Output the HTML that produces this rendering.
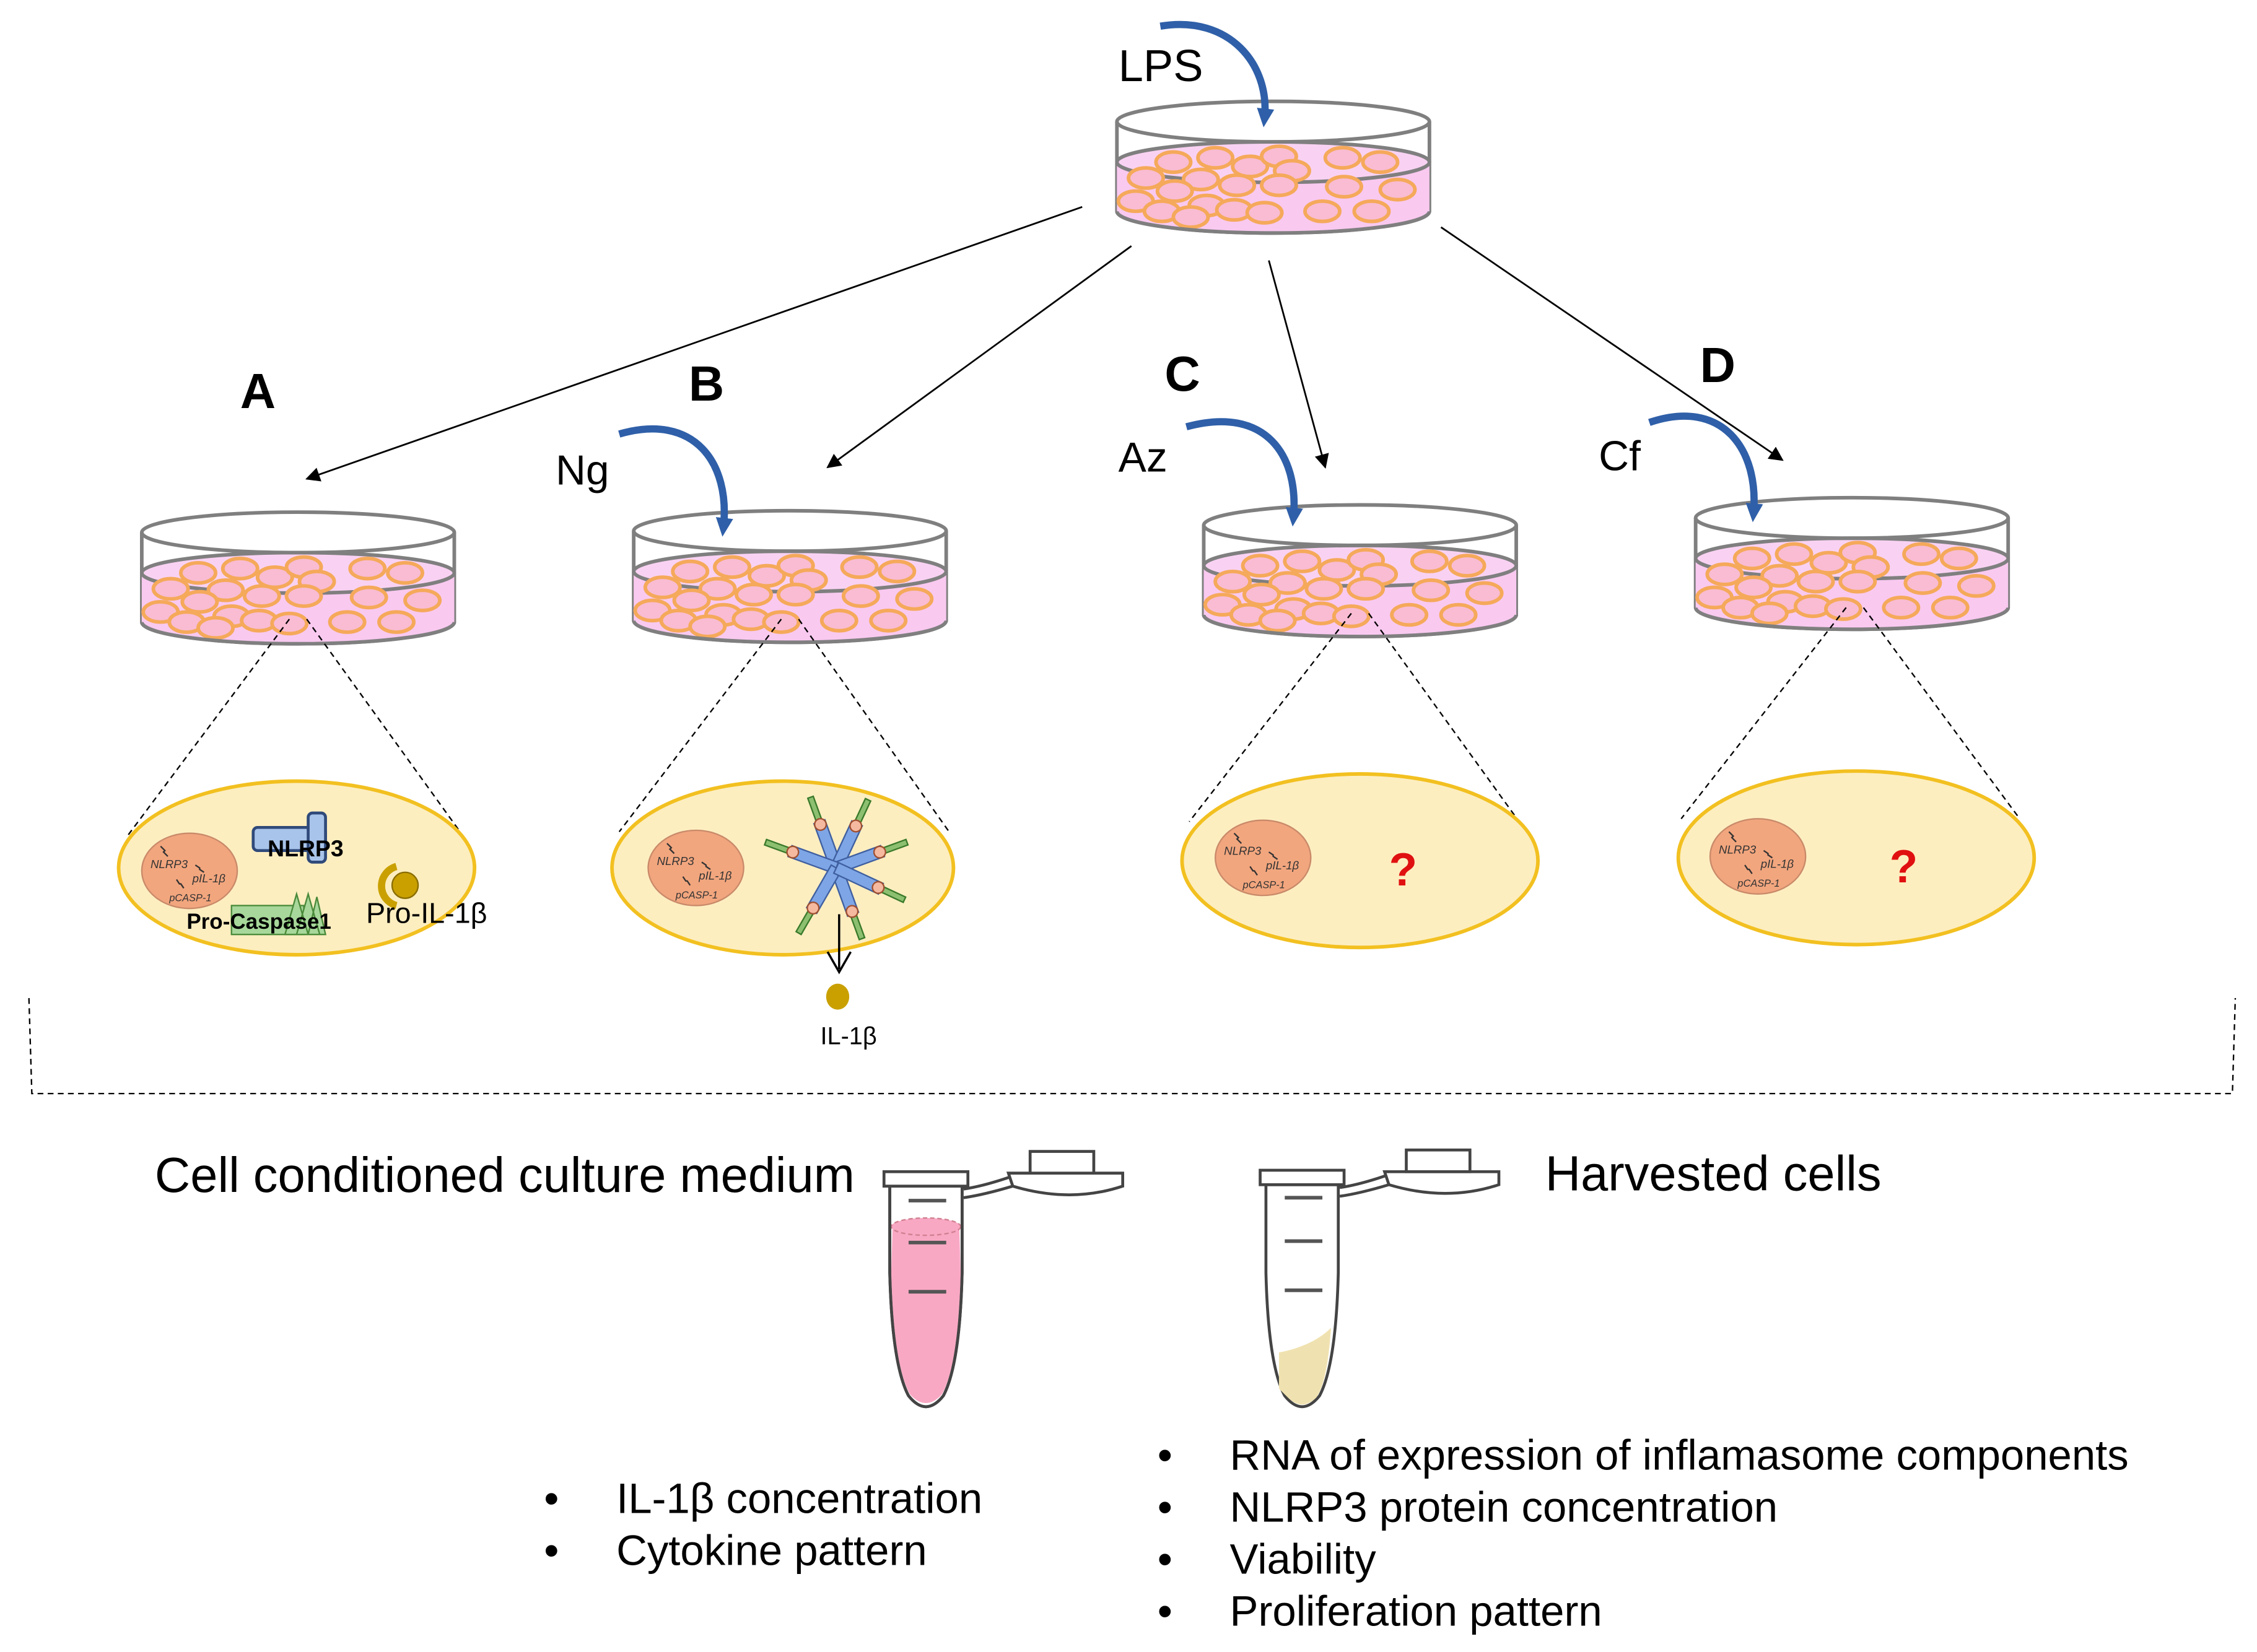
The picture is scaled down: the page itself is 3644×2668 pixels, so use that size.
<!DOCTYPE html>
<html><head><meta charset="utf-8"><style>html,body{margin:0;padding:0;background:#fff}svg{display:block}</style></head><body>
<svg width="3644" height="2668" viewBox="0 0 1560 1142" xmlns="http://www.w3.org/2000/svg" font-family="Liberation Sans, Arial, sans-serif">
<defs>
<marker id="ah" markerWidth="10" markerHeight="10" refX="9" refY="5" orient="auto" markerUnits="userSpaceOnUse"><path d="M0,0 L10,5 L0,10 z" fill="#000"/></marker>
<marker id="bh" markerWidth="14" markerHeight="14" refX="7" refY="7" orient="auto" markerUnits="userSpaceOnUse"><path d="M0,1 L13,7 L0,13 z" fill="#2f5fa8"/></marker>
<g id="dish">
<path d="M-108,0 L-108,62 A108,15 0 0 0 108,62 L108,0" fill="#fff" stroke="#7f7f7f" stroke-width="2.5"/>
<path d="M-108,28 L-108,62 A108,15 0 0 0 108,62 L108,28 Z" fill="#f9c9f0"/>
<ellipse cx="0" cy="28" rx="108" ry="14" fill="#f9d2f3" stroke="#7f7f7f" stroke-width="2.5"/>
<g fill="#f9bcd3" stroke="#f5a95a" stroke-width="2.5">
<ellipse cx="-69" cy="28" rx="12" ry="7"/><ellipse cx="-40" cy="25" rx="12" ry="7"/><ellipse cx="-16" cy="31" rx="12" ry="7"/><ellipse cx="4" cy="24" rx="12" ry="7"/><ellipse cx="13" cy="34" rx="12" ry="7"/><ellipse cx="48" cy="25" rx="12" ry="7"/><ellipse cx="74" cy="28" rx="12" ry="7"/>
<ellipse cx="-88" cy="39" rx="12" ry="7"/><ellipse cx="-50" cy="40" rx="12" ry="7"/><ellipse cx="-25" cy="44" rx="12" ry="7"/><ellipse cx="4" cy="44" rx="12" ry="7"/><ellipse cx="49" cy="45" rx="12" ry="7"/><ellipse cx="86" cy="47" rx="12" ry="7"/><ellipse cx="-68" cy="48" rx="12" ry="7"/>
<ellipse cx="-95" cy="55" rx="12" ry="7"/><ellipse cx="-77" cy="62" rx="12" ry="7"/><ellipse cx="-46" cy="58" rx="12" ry="7"/><ellipse cx="-57" cy="66" rx="12" ry="7"/><ellipse cx="-27" cy="61" rx="12" ry="7"/><ellipse cx="-6" cy="63" rx="12" ry="7"/><ellipse cx="34" cy="62" rx="12" ry="7"/><ellipse cx="68" cy="62" rx="12" ry="7"/>
</g>
<path d="M-108,62 A108,15 0 0 0 108,62" fill="none" stroke="#7f7f7f" stroke-width="2.5"/>
<ellipse cx="0" cy="0" rx="108" ry="14" fill="none" stroke="#7f7f7f" stroke-width="2.5"/>
</g>
<g id="nuc">
<ellipse cx="0" cy="0" rx="33" ry="26" fill="#f2a67e" stroke="#c98a6a" stroke-width="1"/>
<text x="-27" y="-2" font-size="8" font-style="italic" fill="#333">NLRP3</text>
<text x="2" y="8" font-size="8" font-style="italic" fill="#333">pIL-1β</text>
<text x="-14" y="21" font-size="7" font-style="italic" fill="#333">pCASP-1</text>
<path d="M-20,-17 l3,3 l-1,1 l3,3 M4,-4 l3,2 l0,1 l3,2 M-9,6 l2,3 l1,0 l2,3" stroke="#333" stroke-width="1" fill="none"/>
</g>
</defs>

<use href="#dish" x="880" y="84"/>
<text x="773" y="56" font-size="31">LPS</text>
<path d="M802,18 C850,10 878,45 874,82" fill="none" stroke="#2f5fa8" stroke-width="5" marker-end="url(#bh)"/>

<g stroke="#000" stroke-width="1.2" marker-end="url(#ah)">
<line x1="748" y1="143" x2="212" y2="331"/>
<line x1="782" y1="170" x2="572" y2="323"/>
<line x1="877" y1="180" x2="916" y2="323"/>
<line x1="996" y1="157" x2="1232" y2="318"/>
</g>

<text x="166" y="282" font-size="34" font-weight="bold">A</text>
<text x="476" y="277" font-size="34" font-weight="bold">B</text>
<text x="805" y="270" font-size="34" font-weight="bold">C</text>
<text x="1175" y="264" font-size="34" font-weight="bold">D</text>

<use href="#dish" x="206" y="368"/>
<use href="#dish" x="546" y="367"/>
<use href="#dish" x="940" y="363"/>
<use href="#dish" x="1280" y="358"/>

<text x="384" y="335" font-size="29">Ng</text>
<path d="M428,300 C480,285 505,320 500,365" fill="none" stroke="#2f5fa8" stroke-width="5" marker-end="url(#bh)"/>
<text x="773" y="326" font-size="29">Az</text>
<path d="M820,295 C875,280 898,315 894,358" fill="none" stroke="#2f5fa8" stroke-width="5" marker-end="url(#bh)"/>
<text x="1105" y="325" font-size="29">Cf</text>
<path d="M1140,292 C1190,275 1216,310 1212,355" fill="none" stroke="#2f5fa8" stroke-width="5" marker-end="url(#bh)"/>

<g stroke="#000" stroke-width="1" stroke-dasharray="4,3" fill="none">
<line x1="200" y1="428" x2="88" y2="578"/><line x1="212" y1="428" x2="318" y2="575"/>
<line x1="540" y1="428" x2="428" y2="575"/><line x1="552" y1="428" x2="656" y2="575"/>
<line x1="934" y1="424" x2="822" y2="568"/><line x1="946" y1="424" x2="1050" y2="568"/>
<line x1="1276" y1="420" x2="1162" y2="566"/><line x1="1288" y1="420" x2="1396" y2="566"/>
<path d="M20,690 L22,756 L1543,756 L1545,690"/>
</g>

<g fill="#fdeec0" stroke="#f2c020" stroke-width="2.5">
<ellipse cx="205" cy="600" rx="123" ry="60"/>
<ellipse cx="541" cy="600" rx="118" ry="60"/>
<ellipse cx="940" cy="595" rx="123" ry="60"/>
<ellipse cx="1283" cy="593" rx="123" ry="60"/>
</g>
<use href="#nuc" x="131" y="602"/>
<use href="#nuc" x="481" y="600"/>
<use href="#nuc" x="873" y="593"/>
<use href="#nuc" x="1215" y="592"/>

<rect x="175" y="572" width="50" height="16" rx="3" fill="#a9c4ea" stroke="#2f4a7a" stroke-width="2"/>
<rect x="213" y="562" width="12" height="34" rx="3" fill="#a9c4ea" stroke="#2f4a7a" stroke-width="2"/>
<text x="185" y="592" font-size="16" font-weight="bold">NLRP3</text>
<rect x="160" y="626" width="50" height="20" fill="#a7d79a" stroke="#4a8a3a" stroke-width="1"/>
<path d="M197,646 L205,618 L213,646 Z M205,646 L213,618 L221,646 Z M213,646 L219,620 L225,646Z" fill="#a7d79a" stroke="#4a8a3a" stroke-width="1"/>
<text x="129" y="642" font-size="15" font-weight="bold">Pro-Caspase1</text>
<path d="M274,599 A14,14 0 0 0 274,626" fill="none" stroke="#c9a000" stroke-width="5"/>
<circle cx="280" cy="612" r="9" fill="#c9a000" stroke="#8a6d00" stroke-width="1"/>
<text x="253" y="638" font-size="20">Pro-IL-1β</text>

<g stroke="#3f5fa0" stroke-width="1">
<g fill="#7ea6e6">
<rect x="-4" y="-34" width="8" height="34" transform="translate(578,600) rotate(-20)"/>
<rect x="-4" y="-34" width="8" height="34" transform="translate(578,600) rotate(25)"/>
<rect x="-4" y="-34" width="8" height="34" transform="translate(578,600) rotate(70)"/>
<rect x="-4" y="-34" width="8" height="34" transform="translate(578,600) rotate(-70)"/>
<rect x="-4" y="-34" width="8" height="34" transform="translate(578,600) rotate(160)"/>
<rect x="-4" y="-34" width="8" height="34" transform="translate(578,600) rotate(-150)"/>
<rect x="-4" y="-34" width="8" height="34" transform="translate(578,600) rotate(115)"/>
</g>
<g fill="#8cc070" stroke="#3a7a2a">
<rect x="-2" y="-52" width="4" height="20" transform="translate(578,600) rotate(-20)"/>
<rect x="-2" y="-52" width="4" height="20" transform="translate(578,600) rotate(25)"/>
<rect x="-2" y="-52" width="4" height="20" transform="translate(578,600) rotate(70)"/>
<rect x="-2" y="-52" width="4" height="20" transform="translate(578,600) rotate(-70)"/>
<rect x="-2" y="-52" width="4" height="20" transform="translate(578,600) rotate(160)"/>
<rect x="-2" y="-52" width="4" height="20" transform="translate(578,600) rotate(-150)"/>
<rect x="-2" y="-52" width="4" height="20" transform="translate(578,600) rotate(115)"/>
</g>
<g fill="#f5b9a0" stroke="#a05030">
<circle cx="0" cy="-32" r="4" transform="translate(578,600) rotate(-20)"/>
<circle cx="0" cy="-32" r="4" transform="translate(578,600) rotate(25)"/>
<circle cx="0" cy="-32" r="4" transform="translate(578,600) rotate(70)"/>
<circle cx="0" cy="-32" r="4" transform="translate(578,600) rotate(-70)"/>
<circle cx="0" cy="-32" r="4" transform="translate(578,600) rotate(160)"/>
<circle cx="0" cy="-32" r="4" transform="translate(578,600) rotate(-150)"/>
<circle cx="0" cy="-32" r="4" transform="translate(578,600) rotate(115)"/>
</g>
</g>
<line x1="580" y1="632" x2="580" y2="670" stroke="#000" stroke-width="1.5"/>
<path d="M572,658 L580,672 L588,658" fill="none" stroke="#000" stroke-width="1.5"/>
<ellipse cx="579" cy="689" rx="8" ry="9" fill="#c9a000"/>
<text x="567" y="722" font-size="17">IL-1β</text>

<text x="960" y="612" font-size="32" font-weight="bold" fill="#e01010">?</text>
<text x="1306" y="610" font-size="32" font-weight="bold" fill="#e01010">?</text>

<g stroke="#444" stroke-width="2" fill="#fff">
<path d="M615,820 L615,880 C616,920 620,950 628,965 Q640,980 652,965 C660,950 664,920 665,880 L665,820 Z"/>
<path d="M617,846 L663,846 L664,880 C663,920 659,950 651,964 Q640,976 629,964 C621,950 617,920 616,880 Z" fill="#f9a8c4" stroke="none"/>
<ellipse cx="640" cy="848" rx="24" ry="6" fill="#f9a8c4" stroke="#d08090" stroke-width="1" stroke-dasharray="3,2"/>
<path d="M615,820 L615,880 C616,920 620,950 628,965 Q640,980 652,965 C660,950 664,920 665,880 L665,820" fill="none"/>
<rect x="611" y="810" width="58" height="10"/>
<path d="M666,822 Q680,820 700,813 M666,828 Q680,826 700,820" fill="none"/>
<path d="M697,811 L776,811 L776,820 Q740,832 700,820 Z"/>
<rect x="712" y="796" width="44" height="15"/>
<g stroke="#555" stroke-width="2.5"><line x1="628" y1="830" x2="654" y2="830"/><line x1="628" y1="859" x2="654" y2="859"/><line x1="628" y1="893" x2="654" y2="893"/></g>

<path d="M875,819 L875,880 C876,920 880,950 888,965 Q900,980 912,965 C920,950 924,920 925,880 L925,819 Z"/>
<path d="M884,960 L884,935 C895,933 910,928 920,918 C918,945 915,958 910,966 Q900,976 890,966 Z" fill="#f0e2b0" stroke="none"/>
<rect x="871" y="809" width="58" height="10"/>
<path d="M926,821 Q940,819 960,812 M926,827 Q940,825 960,819" fill="none"/>
<path d="M957,810 L1036,810 L1036,819 Q1000,831 960,819 Z"/>
<rect x="972" y="795" width="44" height="15"/>
<g stroke="#555" stroke-width="2.5"><line x1="888" y1="828" x2="914" y2="828"/><line x1="888" y1="858" x2="914" y2="858"/><line x1="888" y1="892" x2="914" y2="892"/></g>
</g>

<text x="107" y="824" font-size="34">Cell conditioned culture medium</text>
<text x="1068" y="823" font-size="34">Harvested cells</text>

<g font-size="29.5">
<text x="376" y="1046">•</text><text x="426" y="1046">IL-1β concentration</text>
<text x="376" y="1082">•</text><text x="426" y="1082">Cytokine pattern</text>
<text x="800" y="1016">•</text><text x="850" y="1016">RNA of expression of inflamasome components</text>
<text x="800" y="1052">•</text><text x="850" y="1052">NLRP3 protein concentration</text>
<text x="800" y="1088">•</text><text x="850" y="1088">Viability</text>
<text x="800" y="1124">•</text><text x="850" y="1124">Proliferation pattern</text>
</g>
</svg>
</body></html>
